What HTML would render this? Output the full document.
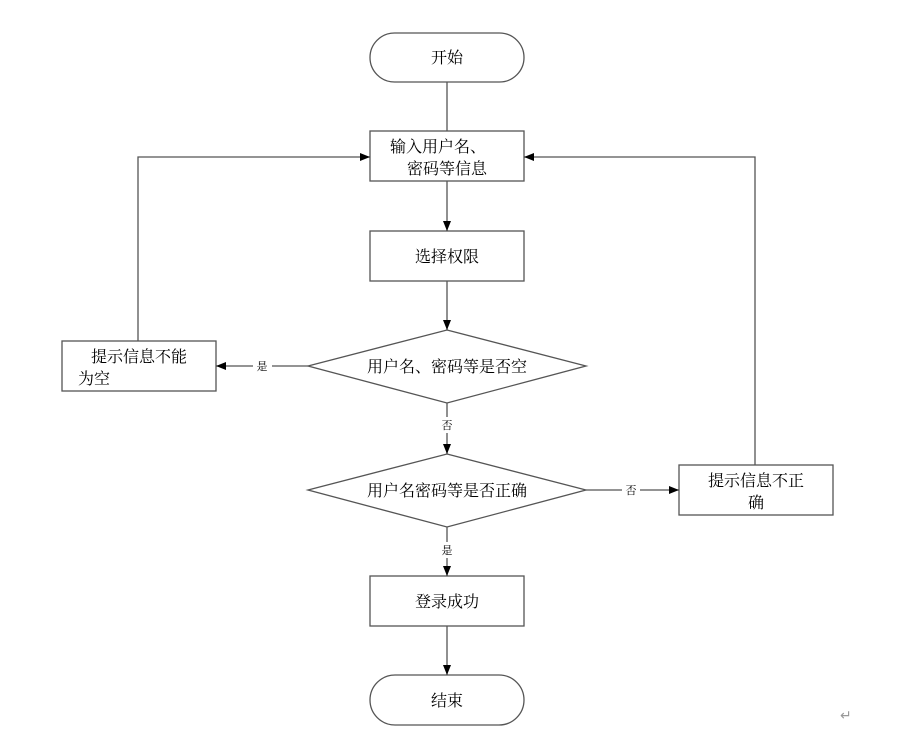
<!DOCTYPE html>
<html><head><meta charset="utf-8"><style>
body{margin:0;background:#fff}
text{font-family:"Liberation Serif","Noto Serif CJK SC","Noto Sans CJK SC",serif;fill:#000}
</style></head><body>
<svg width="906" height="737" viewBox="0 0 906 737" xmlns="http://www.w3.org/2000/svg">
<defs><marker id="a" markerWidth="10" markerHeight="8" refX="10" refY="4" orient="auto" markerUnits="userSpaceOnUse"><path d="M0,0L10,4L0,8z" fill="#000"/></marker></defs>
<g stroke="#555" stroke-width="1.3" fill="none">
<rect x="370" y="33" width="154" height="49" rx="24.5" fill="#fff"/>
<rect x="370" y="131" width="154" height="50" fill="#fff"/>
<rect x="370" y="231" width="154" height="50" fill="#fff"/>
<polygon points="447,330 586,366 447,403 308,366" fill="#fff"/>
<rect x="62" y="341" width="154" height="50" fill="#fff"/>
<polygon points="447,454 586,490 447,527 308,490" fill="#fff"/>
<rect x="679" y="465" width="154" height="50" fill="#fff"/>
<rect x="370" y="576" width="154" height="50" fill="#fff"/>
<rect x="370" y="675" width="154" height="50" rx="25" fill="#fff"/>
<line x1="447" y1="82" x2="447" y2="131"/>
<line x1="447" y1="181" x2="447" y2="231" marker-end="url(#a)"/>
<line x1="447" y1="281" x2="447" y2="330" marker-end="url(#a)"/>
<line x1="447" y1="403" x2="447" y2="417"/>
<line x1="447" y1="433" x2="447" y2="454" marker-end="url(#a)"/>
<line x1="447" y1="527" x2="447" y2="542"/>
<line x1="447" y1="558" x2="447" y2="576" marker-end="url(#a)"/>
<line x1="447" y1="626" x2="447" y2="675" marker-end="url(#a)"/>
<line x1="308" y1="366" x2="272" y2="366"/>
<line x1="253" y1="366" x2="216" y2="366" marker-end="url(#a)"/>
<polyline points="138,341 138,157 370,157" marker-end="url(#a)"/>
<line x1="586" y1="490" x2="622" y2="490"/>
<line x1="640" y1="490" x2="679" y2="490" marker-end="url(#a)"/>
<polyline points="755,465 755,157 524,157" marker-end="url(#a)"/>
</g>
<g font-size="16" text-anchor="middle">
<text x="447" y="63">开始</text>
<text x="438" y="152">输入用户名、</text>
<text x="447" y="174">密码等信息</text>
<text x="447" y="262">选择权限</text>
<text x="447" y="372">用户名、密码等是否空</text>
<text x="139" y="362">提示信息不能</text>
<text x="94" y="384">为空</text>
<text x="447" y="496">用户名密码等是否正确</text>
<text x="756" y="486">提示信息不正</text>
<text x="756" y="508">确</text>
<text x="447" y="607">登录成功</text>
<text x="447" y="706">结束</text>
</g>
<g font-size="11" text-anchor="middle">
<text x="262" y="370">是</text>
<text x="447" y="429">否</text>
<text x="631" y="494">否</text>
<text x="447" y="554">是</text>
</g>
<text x="840" y="720" font-size="14" fill="#999" style="fill:#999">↵</text>
</svg>
</body></html>
